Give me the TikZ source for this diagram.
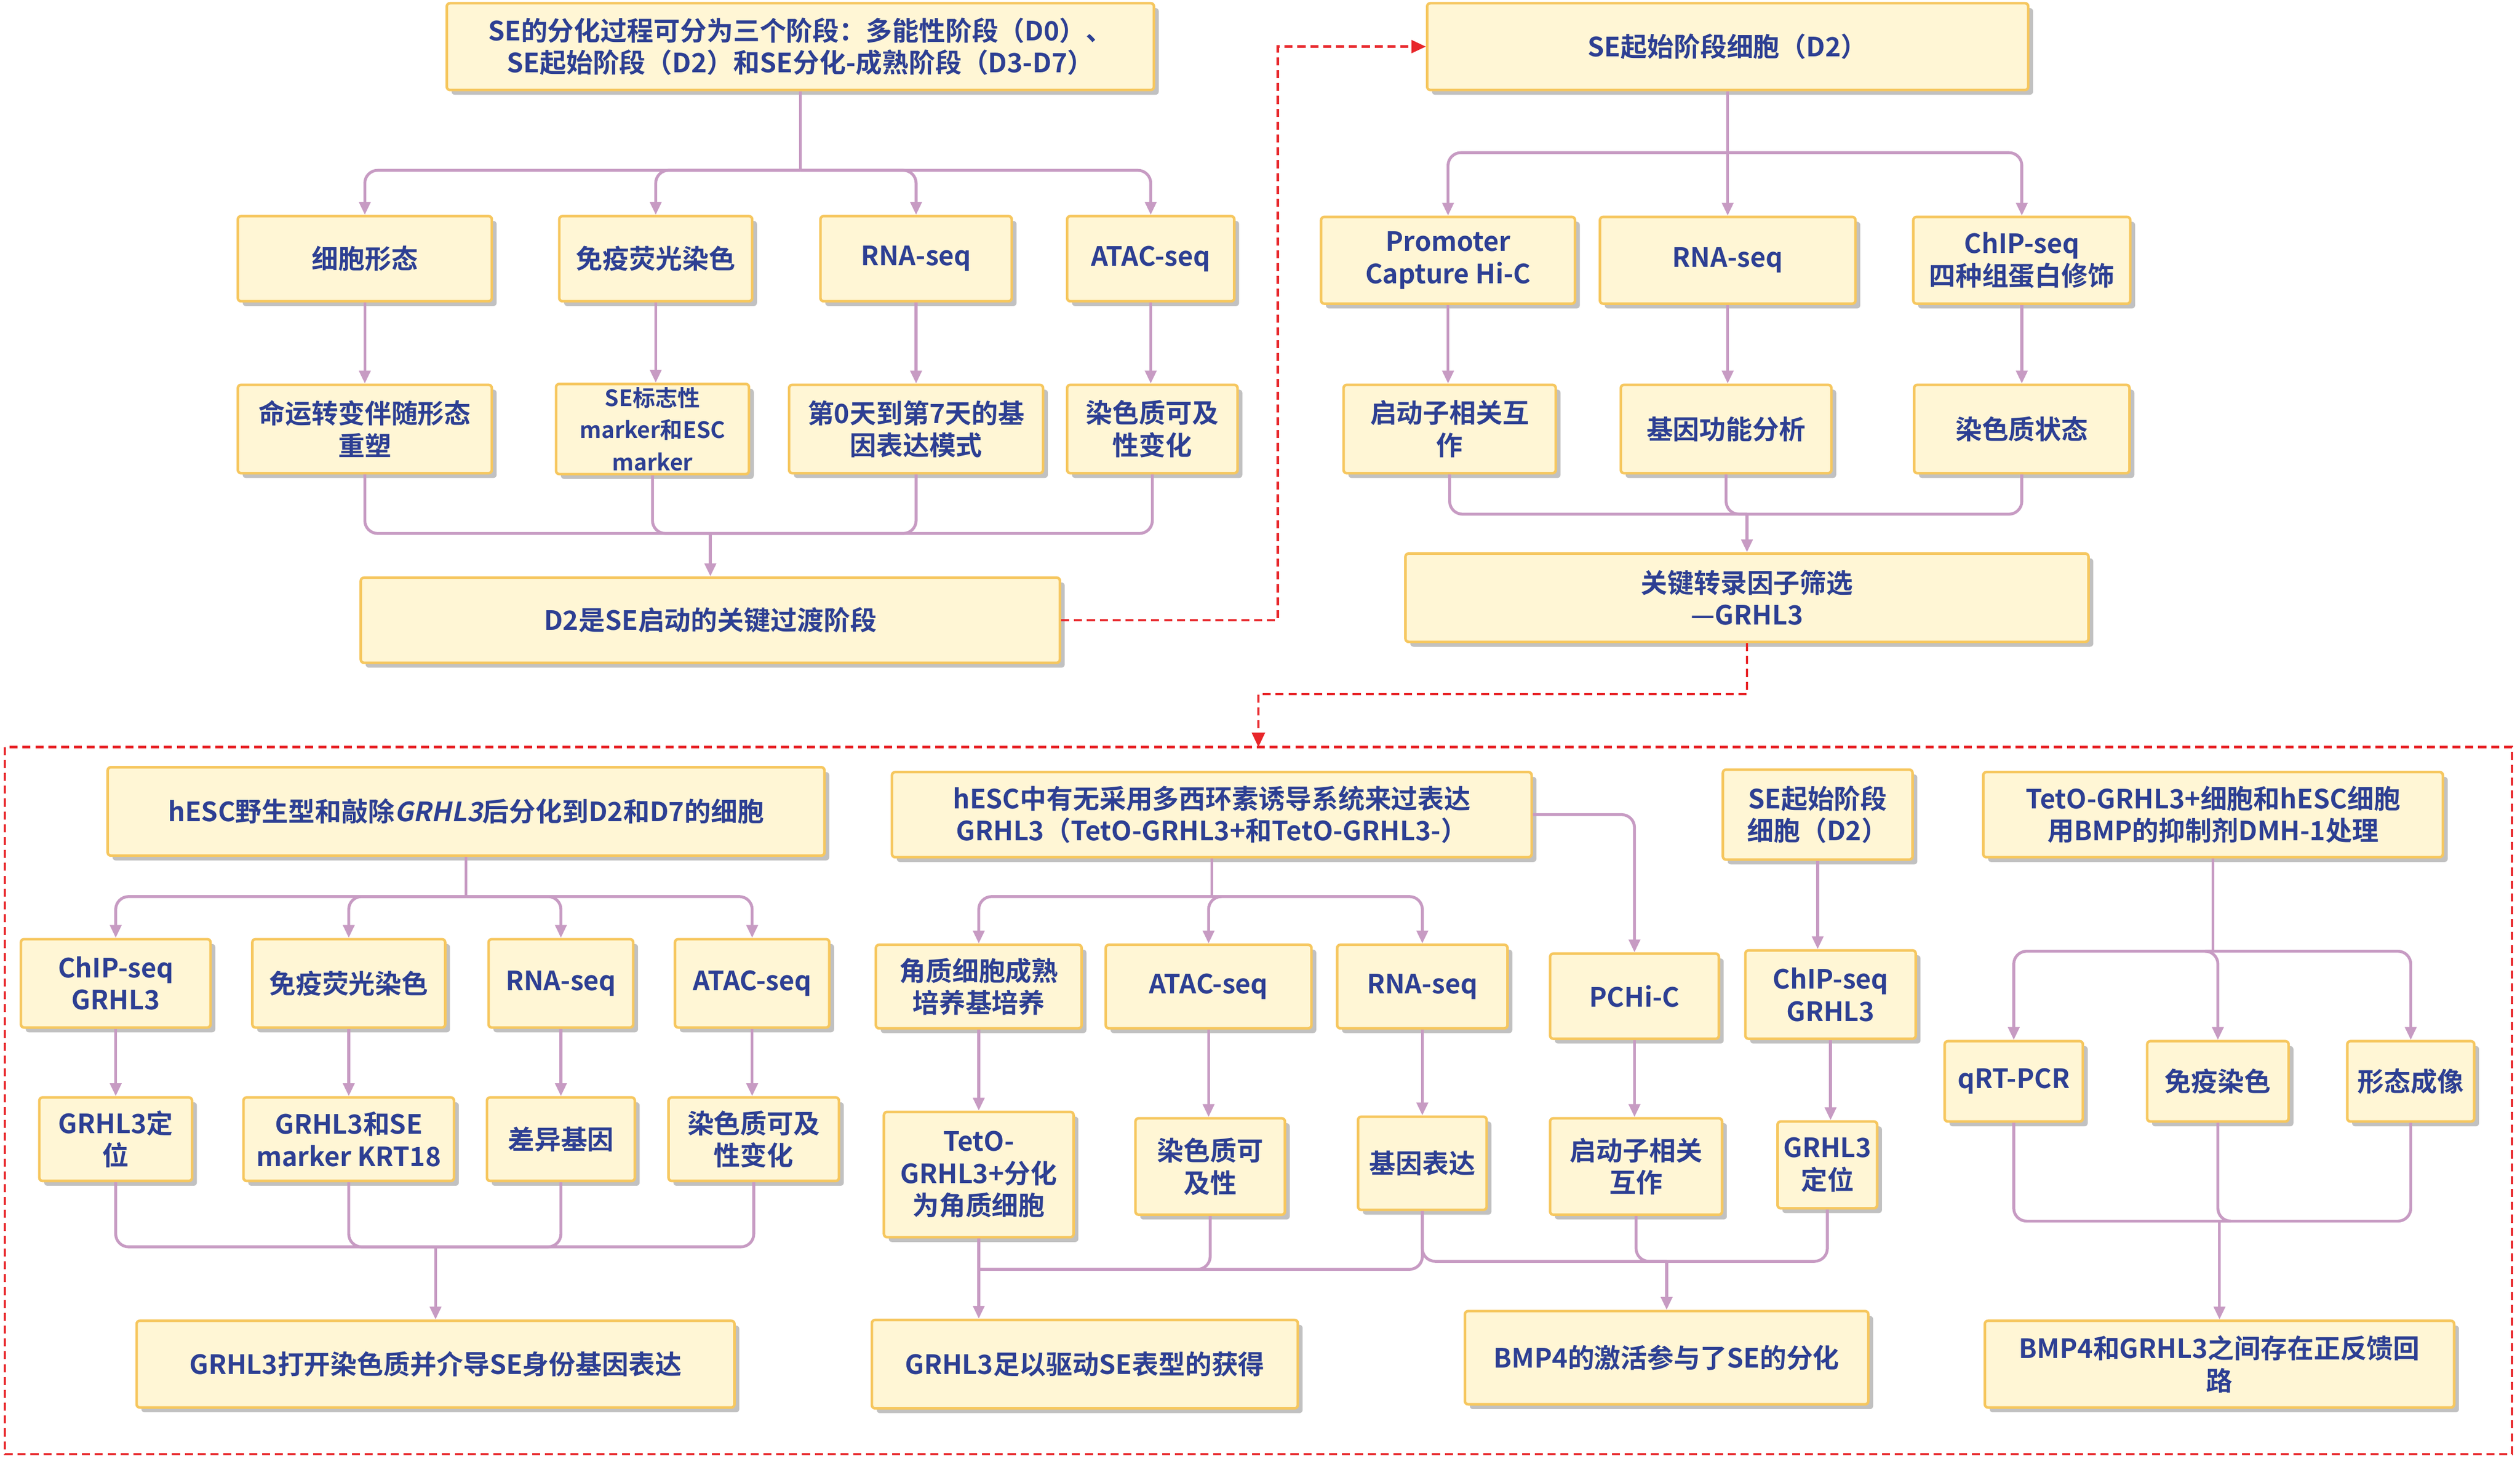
\documentclass[tikz,border=0pt]{standalone}
\usepackage{fontspec}
\setmainfont{Noto Sans CJK SC}[BoldFont={* Bold}]
\newfontfamily\slfont{Noto Sans CJK SC}[BoldFont={* Bold},FakeSlant=0.2]
\usetikzlibrary{shadows,arrows.meta}
\definecolor{bfill}{HTML}{FFF6D5}
\definecolor{bdraw}{HTML}{F6C75F}
\definecolor{txt}{HTML}{2D3F93}
\definecolor{ln}{HTML}{C79BC3}
\definecolor{rd}{HTML}{E8262A}
\tikzset{
 bx/.style={draw=bdraw,line width=1.6pt,fill=bfill,rounded corners=2pt,text=txt,font=\fontsize{16.5}{20}\selectfont\bfseries,align=center,inner sep=2pt,
  drop shadow={shadow xshift=3pt,shadow yshift=-3pt,fill=black!35,opacity=0.7}},
 ln0/.style={draw=ln,line width=1.8pt,rounded corners=8pt},
 conn/.style={ln0,-{Triangle[length=8pt,width=7pt]}},
 red/.style={draw=rd,line width=1.5pt,dashed,dash pattern=on 5pt off 3pt},
}
\newcommand{\B}[6]{\node[bx,minimum width=#4pt,minimum height=#5pt] (#1) at (#2,#3) {#6};}
\begin{document}
\begin{tikzpicture}[x=1pt,y=-1pt]
\useasboundingbox (0,0) rectangle (1568,908);
% top-left
\B{t1}{498}{29}{440}{54}{SE的分化过程可分为三个阶段：多能性阶段（D0）、\\SE起始阶段（D2）和SE分化-成熟阶段（D3-D7）}
\B{a1}{227}{161}{158}{53}{细胞形态}
\B{a2}{408}{161}{120}{53}{免疫荧光染色}
\B{a3}{570}{161}{119}{53}{RNA-seq}
\B{a4}{716}{161}{104}{53}{ATAC-seq}
\B{b1}{227}{267}{158}{55}{命运转变伴随形态\\重塑}
\B{b2}{406}{267}{120}{55}{\fontsize{14}{19}\selectfont SE标志性\\\fontsize{14}{19}\selectfont marker和ESC\\\fontsize{14}{19}\selectfont marker}
\B{b3}{570}{267}{158}{55}{第0天到第7天的基\\因表达模式}
\B{b4}{717}{267}{106}{55}{染色质可及\\性变化}
\B{d2}{442}{386}{435}{53}{D2是SE启动的关键过渡阶段}
\coordinate (ja) at (498,106);
\draw[ln0] (t1.south) -- (ja);
\foreach \n in {a1,a2,a3,a4}{\draw[conn] (ja) -| (\n.north);}
\foreach \i in {1,2,3,4}{\draw[conn] (a\i.south) -- (a\i.south |- b\i.north);}
\coordinate (ma) at (442,332);
\foreach \n in {b1,b2,b3,b4}{\draw[ln0] (\n.south) |- (ma);}
\draw[conn] (ma) -- (d2.north);
% top-right
\B{r1}{1075}{29}{374}{54}{SE起始阶段细胞（D2）}
\B{c1}{901}{162}{158}{54}{Promoter\\Capture Hi-C}
\B{c2}{1075}{162}{159}{54}{RNA-seq}
\B{c3}{1258}{162}{135}{54}{ChIP-seq\\四种组蛋白修饰}
\B{e1}{902}{267}{132}{55}{启动子相关互\\作}
\B{e2}{1074}{267}{131}{55}{基因功能分析}
\B{e3}{1258}{267}{134}{55}{染色质状态}
\B{k1}{1087}{372}{425}{55}{关键转录因子筛选\\—GRHL3}
\coordinate (jr) at (1075,95);
\draw[ln0] (r1.south) -- (jr);
\foreach \n in {c1,c2,c3}{\draw[conn] (jr) -| (\n.north);}
\foreach \i in {1,2,3}{\draw[conn] (c\i.south) -- (c\i.south |- e\i.north);}
\coordinate (mr) at (1087,320);
\foreach \n in {e1,e2,e3}{\draw[ln0] (\n.south) |- (mr);}
\draw[conn] (mr) -- (k1.north);
% red dashed
\coordinate (fr) at (783,465);
\draw[red,-{Triangle[length=9pt,width=8pt]}] (d2.east) -- (795,386) -- (795,29) -- (r1.west);
\draw[red,-{Triangle[length=9pt,width=8pt]}] (k1.south) -- (1087,432) -- (783,432) -- (fr);
\draw[red] (3,465) rectangle (1563,905);
% group A
\B{g1}{290}{505}{446}{55}{hESC野生型和敲除{\slfont\bfseries GRHL3}后分化到D2和D7的细胞}
\B{h1}{72}{612}{118}{55}{ChIP-seq\\GRHL3}
\B{h2}{217}{612}{120}{55}{免疫荧光染色}
\B{h3}{349}{612}{90}{55}{RNA-seq}
\B{h4}{468}{612}{96}{55}{ATAC-seq}
\B{i1}{72}{709}{95}{52}{GRHL3定\\位}
\B{i2}{217}{709}{131}{52}{GRHL3和SE\\marker KRT18}
\B{i3}{349}{709}{92}{52}{差异基因}
\B{i4}{469}{709}{106}{52}{染色质可及\\性变化}
\B{o1}{271}{849}{372}{54}{GRHL3打开染色质并介导SE身份基因表达}
\coordinate (jg) at (290,558);
\draw[ln0] (g1.south) -- (jg);
\foreach \n in {h1,h2,h3,h4}{\draw[conn] (jg) -| (\n.north);}
\foreach \i in {1,2,3,4}{\draw[conn] (h\i.south) -- (h\i.south |- i\i.north);}
\coordinate (mg) at (271,776);
\foreach \n in {i1,i2,i3,i4}{\draw[ln0] (\n.south) |- (mg);}
\draw[conn] (mg) -- (o1.north);
% group B
\B{g2}{754}{507}{398}{53}{hESC中有无采用多西环素诱导系统来过表达\\GRHL3（TetO-GRHL3+和TetO-GRHL3-）}
\B{s0}{1131}{507}{118}{56}{SE起始阶段\\细胞（D2）}
\B{p1}{609}{614}{128}{52}{角质细胞成熟\\培养基培养}
\B{p2}{752}{614}{128}{52}{ATAC-seq}
\B{p3}{885}{614}{106}{52}{RNA-seq}
\B{p4}{1017}{620}{105}{53}{PCHi-C}
\B{p5}{1139}{619}{106}{55}{ChIP-seq\\GRHL3}
\B{q1}{609}{731}{118}{78}{TetO-\\GRHL3+分化\\为角质细胞}
\B{q2}{753}{726}{93}{60}{染色质可\\及性}
\B{q3}{885}{724}{80}{58}{基因表达}
\B{q4}{1018}{726}{107}{60}{启动子相关\\互作}
\B{q5}{1137}{725}{62}{54}{GRHL3\\定位}
\B{o2}{675}{849}{265}{55}{GRHL3足以驱动SE表型的获得}
\B{o3}{1037}{845}{251}{58}{BMP4的激活参与了SE的分化}
\coordinate (jb) at (754,558);
\draw[ln0] (g2.south) -- (jb);
\foreach \n in {p1,p2,p3}{\draw[conn] (jb) -| (\n.north);}
\draw[conn] (g2.east) -| (p4.north);
\draw[conn] (s0.south) -- (s0.south |- p5.north);
\draw[conn] (p1.south) -- (p1.south |- q1.north);
\draw[conn] (p2.south) -- (p2.south |- q2.north);
\draw[conn] (p3.south) -- (p3.south |- q3.north);
\draw[conn] (p4.south) -- (p4.south |- q4.north);
\draw[conn] (p5.south) -- (p5.south |- q5.north);
\coordinate (mb) at (609,790);
\draw[ln0] (q1.south) -- (mb);
\draw[ln0] (q2.south) |- (mb);
\draw[ln0] (q3.south) |- (mb);
\draw[conn] (mb) -- (mb |- o2.north);
\coordinate (mc) at (1037,785);
\draw[ln0] (q3.south) |- (mc);
\draw[ln0] (q4.south) |- (mc);
\draw[ln0] (q5.south) |- (mc);
\draw[conn] (mc) -- (o3.north);
% group C
\B{g3}{1377}{507}{286}{53}{TetO-GRHL3+细胞和hESC细胞\\用BMP的抑制剂DMH-1处理}
\B{u1}{1253}{673}{86}{50}{qRT-PCR}
\B{u2}{1380}{673}{88}{50}{免疫染色}
\B{u3}{1500}{673}{79}{50}{形态成像}
\B{o4}{1381}{849}{292}{54}{BMP4和GRHL3之间存在正反馈回\\路}
\coordinate (jc) at (1377,592);
\draw[ln0] (g3.south) -- (jc);
\foreach \n in {u1,u2,u3}{\draw[conn] (jc) -| (\n.north);}
\coordinate (mcc) at (1381,760);
\foreach \n in {u1,u2,u3}{\draw[ln0] (\n.south) |- (mcc);}
\draw[conn] (mcc) -- (o4.north);
\end{tikzpicture}
\end{document}
